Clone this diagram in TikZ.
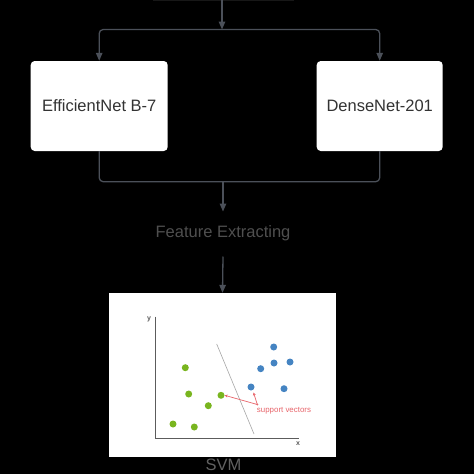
\documentclass[tikz,border=0pt]{standalone}
\usepackage{fontspec}
\setmainfont{Liberation Sans}
\usetikzlibrary{arrows.meta,positioning}
\definecolor{wirecol}{HTML}{4B5059}
\definecolor{darktext}{HTML}{333333}
\definecolor{labeltext}{HTML}{4F4F4F}
\definecolor{ptgreen}{HTML}{79B51F}
\definecolor{ptblue}{HTML}{4584C2}
\definecolor{svred}{HTML}{E8656B}
\begin{document}
\begin{tikzpicture}[x=1pt,y=-1pt,
		wire/.style={draw=wirecol,line width=1.3pt,rounded corners=4pt},
		flow/.style={wire,-{Triangle[length=8pt,width=6.5pt]}},
		netbox/.style={fill=white,rounded corners=4pt,minimum height=90pt,
			font=\fontsize{16.5}{20}\selectfont,text=darktext},
		steplabel/.style={font=\fontsize{16.5}{20}\selectfont,text=labeltext},
		dot/.style={circle,inner sep=0pt,minimum size=7pt},
		axislabel/.style={font=\fontsize{7}{8}\bfseries\selectfont,text=darktext!80},
		svarrow/.style={draw=svred,line width=0.7pt,-{Stealth[length=3pt,width=3pt]}},
	]
	\useasboundingbox (0,0) rectangle (474,474);
	\fill[black] (0,0) rectangle (474,474);
	% cut-off node above
	\node[draw=white!9!black,fill=black,minimum width=140pt,minimum height=40pt] (prev) at (223,-20) {};
	\coordinate (split) at (222,29.5);
	\node[netbox,minimum width=137pt] (eff) at (99.2,106) {EfficientNet B-7};
	\node[netbox,minimum width=126pt] (dense) at (379.7,106) {DenseNet-201};
	\coordinate (merge) at (223,181.7);
	\node[steplabel,minimum height=43pt] (feat) at (223,233) {Feature Extracting};
	\node[fill=white,minimum width=227pt,minimum height=164pt,inner sep=0pt] (plot) at (222.5,375) {};
	\node[steplabel,text=labeltext!90,inner sep=1pt] (svm) at (223.5,465) {SVM};

	\draw[flow] (222,0) -- (split);
	\draw[flow] (split) -| (eff.north);
	\draw[flow] (split) -| (dense.north);
	\draw[wire] (eff.south) |- (merge) -| (dense.south);
	\draw[flow] (merge) -- (223,211.5);
	\draw[flow] (223,256.5) -- (plot.north);

	% svm plot
	\draw[darktext!80,line width=1.1pt] (155.7,316.7) -- (155.7,438.3) -- (299,438.3);
	\node[axislabel] (ylab) at (149,319) {y};
	\node[axislabel] (xlab) at (298,444) {x};
	\draw[gray!70,line width=0.6pt] (216.7,344) -- (254,434);
	\foreach \px/\py [count=\i] in {185.3/367.7,188.7/394,208.3/405.7,221/395.3,173/424,194.3/427}
		\node[dot,fill=ptgreen] (g\i) at (\px,\py) {};
	\foreach \px/\py [count=\i] in {273.7/347,260.7/368.7,274/363,290/362,251/387,284/388.7}
		\node[dot,fill=ptblue] (b\i) at (\px,\py) {};
	\node[font=\fontsize{7.9}{9}\selectfont,text=svred,inner sep=1pt] (sv) at (284,410.5) {support vectors};
	\coordinate (svfoot) at (257.3,404.5);
	\fill[svred] (svfoot) circle (1pt);
	\draw[svarrow] (svfoot) -- (g4.east);
	\draw[svarrow] (svfoot) -- (253.5,392.5);
\end{tikzpicture}
\end{document}
